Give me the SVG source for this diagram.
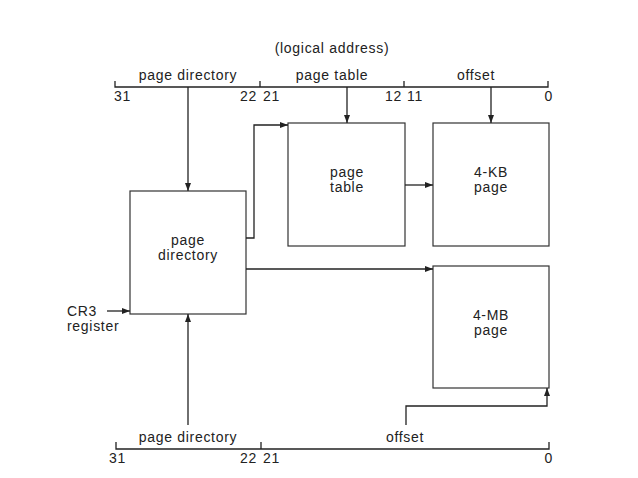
<svg xmlns="http://www.w3.org/2000/svg" width="638" height="478" viewBox="0 0 638 478">
<style>
text{font-family:"Liberation Sans",Arial,sans-serif;font-size:14px;fill:#222;letter-spacing:0.7px}
.m{text-anchor:middle}
.e{text-anchor:end}
.box{fill:#fff;stroke:#333;stroke-width:1.2}
.ln{fill:none;stroke:#222;stroke-width:1.3}
</style>
<defs>
<marker id="ah" viewBox="0 0 8 6" refX="8" refY="3" markerWidth="8" markerHeight="6" markerUnits="userSpaceOnUse" orient="auto">
<path d="M0,0 L8,3 L0,6 Z" fill="#222"/>
</marker>
</defs>
<rect width="638" height="478" fill="#fff"/>
<g id="logical-address-top">
<text class="m" x="332" y="53">(logical address)</text>
<path class="ln" d="M115,81 V87 H548 V81 M260,81 V87 M404,81 V87"/>
<text class="m" x="188" y="80">page directory</text>
<text class="m" x="332" y="80">page table</text>
<text class="m" x="476" y="80">offset</text>
<text x="114" y="101">31</text>
<text class="e" x="257" y="101">22</text>
<text x="263" y="101">21</text>
<text class="e" x="402" y="101">12</text>
<text x="407" y="101">11</text>
<text class="e" x="553" y="101">0</text>
</g>
<g id="logical-address-bottom">
<path class="ln" d="M116,442 V449 H549 V442 M261,442 V449"/>
<text class="m" x="188" y="442">page directory</text>
<text class="m" x="405" y="442">offset</text>
<text x="109" y="463">31</text>
<text class="e" x="257" y="463">22</text>
<text x="263" y="463">21</text>
<text class="e" x="553" y="463">0</text>
</g>
<g id="page-directory">
<rect class="box" x="130" y="191" width="116" height="123"/>
<text class="m" x="188" y="245">page</text>
<text class="m" x="188" y="260">directory</text>
</g>
<g id="page-table">
<rect class="box" x="288" y="123" width="117" height="123"/>
<text class="m" x="347" y="177">page</text>
<text class="m" x="347" y="192">table</text>
</g>
<g id="page-4kb">
<rect class="box" x="433" y="123" width="116" height="123"/>
<text class="m" x="491" y="177">4-KB</text>
<text class="m" x="491" y="192">page</text>
</g>
<g id="page-4mb">
<rect class="box" x="433" y="266" width="116" height="122"/>
<text class="m" x="491" y="320">4-MB</text>
<text class="m" x="491" y="335">page</text>
</g>
<g id="cr3">
<text x="67" y="316">CR3</text>
<text x="67" y="331">register</text>
</g>
<g id="connectors">
<path class="ln" marker-end="url(#ah)" d="M188,87 V191"/>
<path class="ln" marker-end="url(#ah)" d="M347,87 V123"/>
<path class="ln" marker-end="url(#ah)" d="M491,87 V123"/>
<path class="ln" marker-end="url(#ah)" d="M246,238 H254 V125 H288"/>
<path class="ln" marker-end="url(#ah)" d="M405,185 H433"/>
<path class="ln" marker-end="url(#ah)" d="M246,269 H433"/>
<path class="ln" marker-end="url(#ah)" d="M107,311 H130"/>
<path class="ln" marker-end="url(#ah)" d="M188,425 V314"/>
<path class="ln" marker-end="url(#ah)" d="M406,425 V406 H547 V388"/>
</g>
</svg>
